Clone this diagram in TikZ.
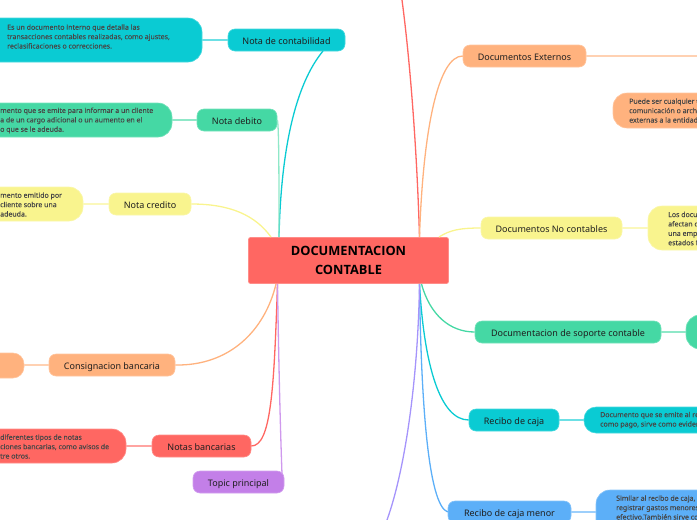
\documentclass[tikz,border=0pt]{standalone}
\usepackage{fontspec}
\setmainfont{Noto Sans}
\newfontfamily\hubfont{Open Sans}
\definecolor{cteal}{HTML}{0ACBD3}
\definecolor{cgreen}{HTML}{45D8A4}
\definecolor{cyellow}{HTML}{F9F48E}
\definecolor{corange}{HTML}{FFB27E}
\definecolor{cred}{HTML}{FF6762}
\definecolor{cpurple}{HTML}{C37FE8}
\definecolor{cblue}{HTML}{5CAFF8}
\definecolor{cviolet}{HTML}{A594FB}
\tikzset{
  topicbox/.style={rounded corners=7pt,inner sep=0pt,text=black!88,font=\fontsize{9}{11}\selectfont,text depth=0.4pt,text height=9.2pt,draw=#1!75!white,fill=#1,line width=.6pt},
  detailbox/.style={rounded corners=14pt,draw=#1!75!white,fill=#1,line width=.6pt},
  detailtext/.style={anchor=west,align=left,inner sep=0pt,text=black!72,font=\fontsize{7}{9.4}\selectfont\addfontfeature{FakeBold=0.12}},
  cn/.style={draw=#1,line width=1.3pt},
  ln/.style={draw=#1!60!white,line width=1.3pt},
}
\newcommand{\tp}[7]{\node[topicbox=#1,minimum width=#4pt-#3pt,minimum height=#6pt-#5pt] (#2) at ({(#3+#4)/2},{(#5+#6)/2}) {#7};}
\begin{document}
\begin{tikzpicture}[x=1pt,y=-1pt]
\useasboundingbox (0,0) rectangle (697,520);
\clip (0,0) rectangle (697,520);
% central hub
\node[rounded corners=2pt,fill=cred,draw=cred!75!white,line width=.7pt,minimum width=200pt,minimum height=46pt,inner sep=0pt,align=center,text=black,font=\hubfont\fontsize{12.8}{18.8}\selectfont\bfseries] (hub) at (348.5,260.5) {DOCUMENTACION\\CONTABLE};
\coordinate (hubTL) at (279,237);
\coordinate (hubTR) at (419.5,237);
\coordinate (hubBL) at (277.5,284);
\coordinate (hubBR) at (419.5,284);
% topics
\tp{cteal}{ncont}{228}{345}{29}{51}{Nota de contabilidad}
\tp{cgreen}{ndeb}{197}{277}{109}{131}{Nota debito}
\tp{cyellow}{ncre}{109}{191}{193}{215}{Nota credito}
\tp{corange}{ncon}{49}{175}{354}{376}{Consignacion bancaria}
\tp{cred}{nban}{152}{251}{435}{457}{Notas bancarias}
\tp{cpurple}{ntop}{193}{284}{471}{493}{Topic principal}
\tp{corange}{dext}{463}{586}{45}{67}{Documentos Externos}
\tp{cyellow}{dnoc}{481}{622}{217}{239}{Documentos No contables}
\tp{cgreen}{dsop}{475}{661}{321}{343}{Documentacion de soporte contable}
\tp{cteal}{rcaj}{469}{559}{409}{431}{Recibo de caja}
\tp{cblue}{rmen}{448}{571}{501}{523}{Recibo de caja menor}
% detail boxes
\path[detailbox=cteal] (-40,18) rectangle (202,62); \coordinate (a1) at (202,40);
\path[detailbox=cgreen] (-40,103) rectangle (172,137); \coordinate (a2) at (172,120);
\path[detailbox=cyellow] (-40,187) rectangle (83,221); \coordinate (a3) at (83,204);
\path[detailbox=corange,rounded corners=11pt] (-40,353) rectangle (24,378); \coordinate (a4) at (24,365);
\path[detailbox=cred] (-40,429) rectangle (126,463); \coordinate (a5) at (126,446);
\path[detailbox=corange] (613,93) rectangle (760,128);
\path[detailbox=cyellow] (648,206) rectangle (760,250); \coordinate (a6) at (648,228);
\path[detailbox=cgreen] (686,315) rectangle (760,349); \coordinate (a7) at (686,332);
\path[detailbox=cteal,rounded corners=12pt] (584,407) rectangle (760,433); \coordinate (a8) at (584,420);
\path[detailbox=cblue] (596,490) rectangle (760,540); \coordinate (a9) at (596,512);
\coordinate (a10) at (697,56);
\coordinate (topEnd) at (402,0);
\coordinate (botEnd) at (387,520);
% detail texts
\node[detailtext] (t1) at (7,36.5) {Es un documento interno que detalla las\\transacciones contables realizadas, como ajustes,\\reclasificaciones o correcciones.};
\node[detailtext] (t2) at (0,120.5) {mento que se emite para informar a un cliente\\a de un cargo adicional o un aumento en el\\o que se le adeuda.};
\node[detailtext] (t3) at (0,204.5) {mento emitido por\\cliente sobre una\\adeuda.};
\node[detailtext] (t5) at (0,446.5) {diferentes tipos de notas\\ciones bancarias, como avisos de\\tre otros.};
\node[detailtext] (t6) at (629,110.5) {Puede ser cualquier t\\comunicación o arch\\externas a la entidad};
\node[detailtext] (t7) at (668,228.5) {Los docu\\afectan d\\una emp\\estados f};
\node[detailtext] (t8) at (600,420) {Documento que se emite al re\\como pago, sirve como eviden};
\node[detailtext] (t9) at (616,507.5) {Similar al recibo de caja,\\registrar gastos menores\\efectivo.También sirve co};
% short links
\draw[ln=cteal] (ncont.west) -- (a1);
\draw[ln=cgreen] (ndeb.west) -- (a2);
\draw[ln=cyellow] (ncre.west) -- (a3);
\draw[ln=corange] (ncon.west) -- (a4);
\draw[ln=cred] (nban.west) -- (a5);
\draw[ln=corange] (dext.east) -- (a10);
\draw[ln=cyellow] (dnoc.east) -- (a6);
\draw[ln=cgreen] (dsop.east) -- (a7);
\draw[ln=cteal] (rcaj.east) -- (a8);
\draw[ln=cblue] (rmen.east) -- (a9);
% main branches
\coordinate (e1) at (323,51);
\draw[cn=cteal] (hubTL) .. controls (281,150) and (295,85) .. (e1);
\draw[ln=cgreen] (hubTL) .. controls (279,180) and (279,125) .. (ndeb.east);
\coordinate (e2) at (271,237);
\draw[cn=cyellow] (e2) .. controls (255,215) and (230,204) .. (ncre.east);
\coordinate (e3) at (276,284);
\draw[cn=corange] (e3) .. controls (265,330) and (230,366) .. (ncon.east);
\draw[cn=cred] (hubBL) .. controls (274,390) and (271,446) .. (nban.east);
\coordinate (e4) at (282,474);
\draw[cn=cpurple!80!white] (hubBL) .. controls (278.5,350) and (280,420) .. (e4);
\draw[cn=cred] (hubTR) .. controls (417,150) and (410,60) .. (topEnd);
\draw[cn=corange] (hubTR) .. controls (423,130) and (438,56) .. (dext.west);
\coordinate (e5) at (439,237);
\draw[cn=cyellow] (e5) .. controls (450,230) and (460,228) .. (dnoc.west);
\coordinate (e6) at (421.5,284);
\draw[cn=cgreen] (e6) .. controls (430,315) and (450,332) .. (dsop.west);
\draw[cn=cteal] (hubBR) .. controls (424,365) and (440,420) .. (rcaj.west);
\draw[cn=cblue] (hubBR) .. controls (421,400) and (428,505) .. (rmen.west);
\draw[cn=cviolet] (hubBR) .. controls (418,380) and (405,470) .. (botEnd);
\end{tikzpicture}
\end{document}
